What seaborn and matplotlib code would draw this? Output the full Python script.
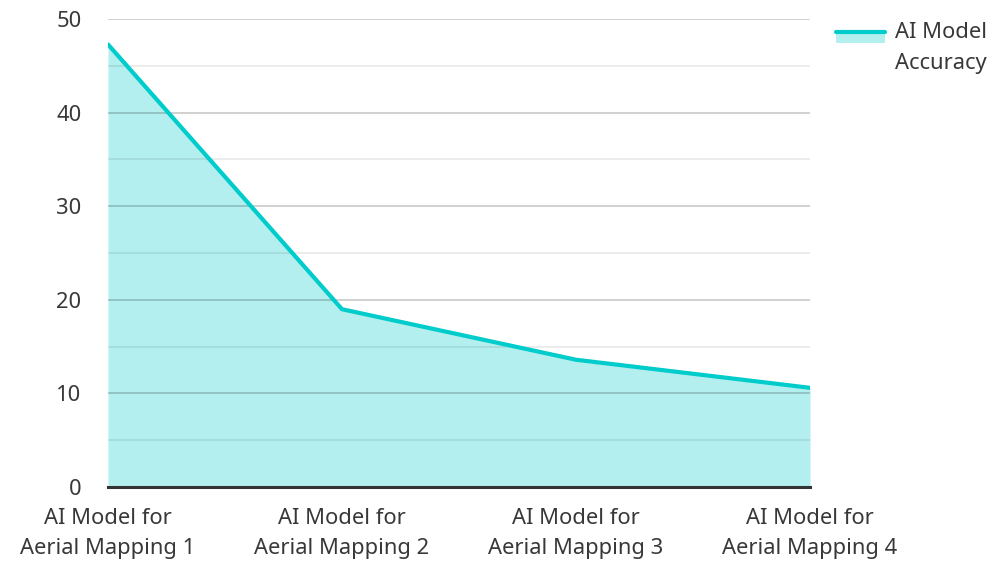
import numpy as np
import pandas as pd
import matplotlib
matplotlib.use('Agg')
import matplotlib.pyplot as plt
import seaborn as sns
from matplotlib.patches import Rectangle
from matplotlib.lines import Line2D

# ---- data ----
categories = ['AI Model for\nAerial Mapping 1', 'AI Model for\nAerial Mapping 2',
              'AI Model for\nAerial Mapping 3', 'AI Model for\nAerial Mapping 4']
accuracy = [47.3, 19.0, 13.6, 10.6]
series_name = 'AI Model\nAccuracy'

LINE = '#00CCCC'
FILL = '#B2EFEE'
TEXT = '#383838'

sns.set_style('white')
plt.rcParams['font.family'] = ['Noto Sans', 'DejaVu Sans']

df = pd.DataFrame({'pos': np.arange(len(categories)), 'value': accuracy})

fig = plt.figure(figsize=(10, 5.63), dpi=100)
ax = fig.add_axes([0.108, 0.135, 0.702, 0.831])

ax.fill_between(df['pos'], df['value'], 0, color=FILL, lw=0, zorder=1)
sns.lineplot(data=df, x='pos', y='value', color=LINE, linewidth=3, ax=ax, zorder=3,
             legend=False)

ax.set_xlim(0, len(categories) - 1)
ax.set_ylim(0, 50)
ax.set_yticks(range(0, 51, 10))
ax.set_yticks(range(5, 50, 10), minor=True)
ax.set_xticks(df['pos'])
ax.set_xticklabels(categories, linespacing=1.6)
ax.tick_params(axis='both', labelsize=15.8, colors=TEXT, length=0)
ax.tick_params(axis='x', pad=15)
ax.tick_params(axis='y', pad=19)
ax.tick_params(axis='y', which='minor', length=0)
ax.grid(axis='y', which='major', color='black', alpha=0.21, lw=1.2, zorder=2)
ax.grid(axis='y', which='minor', color='black', alpha=0.09, lw=1.2, zorder=2)
ax.set_axisbelow(False)
for s in ['top', 'right', 'left']:
    ax.spines[s].set_visible(False)
ax.spines['bottom'].set_color('#333333')
ax.spines['bottom'].set_linewidth(2.2)
ax.spines['bottom'].set_zorder(4)
ax.set_xlabel('')
ax.set_ylabel('')

# legend: swatch of fill with the line on its top edge, text beside it
fig.add_artist(Rectangle((0.836, 1 - 43 / 563), 0.049, 12 / 563,
                         transform=fig.transFigure, facecolor=FILL, edgecolor='none'))
fig.add_artist(Line2D([0.836, 0.885], [1 - 32 / 563] * 2, transform=fig.transFigure,
                      color=LINE, lw=3))
fig.text(0.895, 1 - 22 / 563, series_name, ha='left', va='top', fontsize=15.8,
         color=TEXT, linespacing=1.65)

fig.savefig('out.png', dpi=100)
